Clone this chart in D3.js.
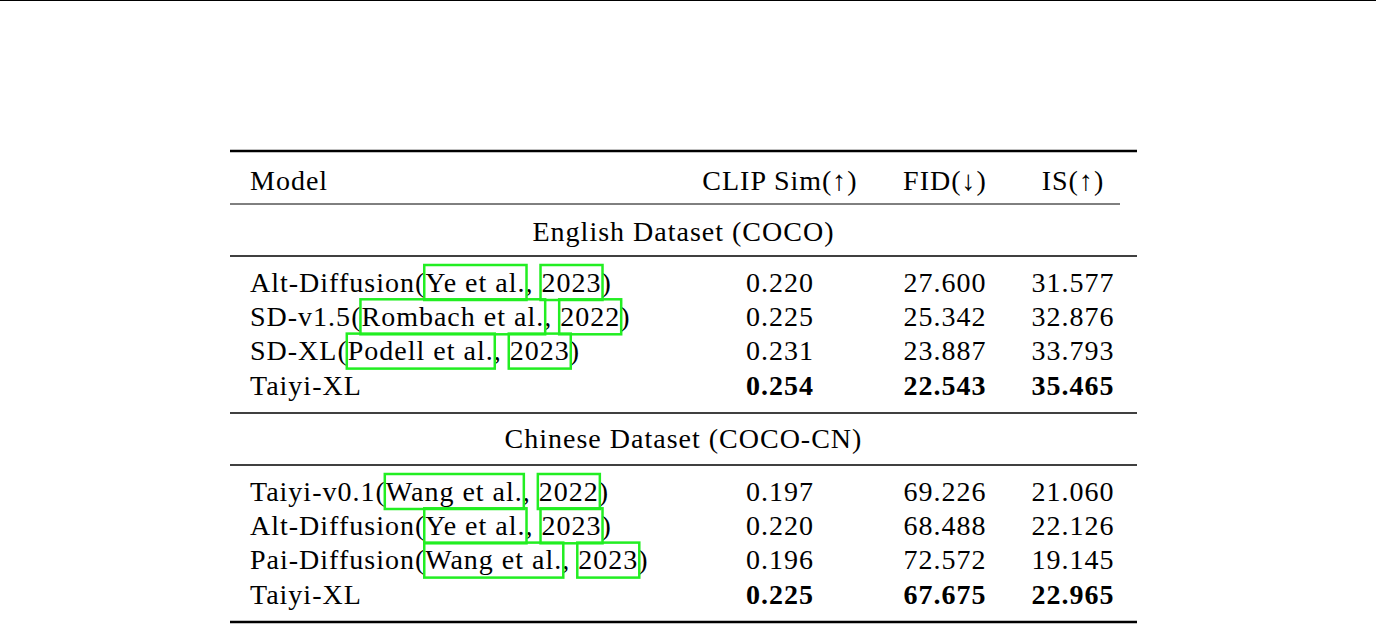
<!DOCTYPE html>
<html><head><meta charset="utf-8">
<script src="https://cdn.jsdelivr.net/npm/d3@7"></script>
<style>body{margin:0;background:#fff}</style>
</head><body>
<svg id="chart" width="1376" height="624"></svg>
<script>
var headers = ["Model", "CLIP Sim(\u2191)", "FID(\u2193)", "IS(\u2191)"];
var sections = ["English Dataset (COCO)", "Chinese Dataset (COCO-CN)"];
var models = [["Alt-Diffusion", "SD-v1.5", "SD-XL", "Taiyi-XL"],
              ["Taiyi-v0.1", "Alt-Diffusion", "Pai-Diffusion", "Taiyi-XL"]];
var citeNames = [["Ye et al.", "Rombach et al.", "Podell et al.", null],
                 ["Wang et al.", "Ye et al.", "Wang et al.", null]];
var citeYears = [["2023", "2022", "2023", null],
                 ["2022", "2023", "2023", null]];
var clipSim = [["0.220", "0.225", "0.231", "0.254"], ["0.197", "0.220", "0.196", "0.225"]];
var fid = [["27.600", "25.342", "23.887", "22.543"], ["69.226", "68.488", "72.572", "67.675"]];
var is = [["31.577", "32.876", "33.793", "35.465"], ["21.060", "22.126", "19.145", "22.965"]];
var boldRow = 3;

var svg = d3.select("#chart");
var font = "'Liberation Serif', 'DejaVu Serif', serif";
var fs = 28;
var left = 230, right = 1137;
var colX = [250, 780, 945, 1073];

function rule(y, x1, x2, w) {
	svg.append("line").attr("x1", x1).attr("x2", x2).attr("y1", y).attr("y2", y)
		.attr("stroke", "black").attr("stroke-width", w);
}
function txt(x, y, s, anchor, bold) {
	return svg.append("text").attr("x", x).attr("y", y).attr("dy", "0.35em")
		.attr("font-family", font).attr("font-size", fs)
		.attr("letter-spacing", 1)
		.attr("font-weight", bold ? "bold" : "normal")
		.attr("text-anchor", anchor).text(s);
}

rule(0.5, 0, 1376, 1);
rule(151, left, right, 2.5);
txt(colX[0], 180, headers[0], "start");
for (var c = 1; c < 4; c++) txt(colX[c], 180, headers[c], "middle");
rule(204, left, 1120, 1);

var sectionY = [231, 438];
var rowStart = [282, 491];
var rowStep = 34.3;
var rulesAfter = [[256, 413], [465, 622]];

for (var s = 0; s < 2; s++) {
	txt((left + right) / 2, sectionY[s], sections[s], "middle");
	rule(rulesAfter[s][0], left, right, 1.5);
	for (var r = 0; r < 4; r++) {
		var y = rowStart[s] + r * rowStep;
		var b = r == boldRow;
		var t = txt(colX[0], y, null, "start");
		t.append("tspan").text(models[s][r]);
		if (citeNames[s][r]) {
			t.append("tspan").text("(");
			var nm = t.append("tspan").text(citeNames[s][r]);
			t.append("tspan").text(", ");
			var yr = t.append("tspan").text(citeYears[s][r]);
			t.append("tspan").text(")");
			[nm, yr].forEach(function(sp) {
				var node = sp.node();
				var n = node.getNumberOfChars();
				var x0 = node.getStartPositionOfChar(0).x;
				var x1 = node.getEndPositionOfChar(n - 1).x;
				svg.append("rect").attr("x", x0 - 1).attr("y", y - 17)
					.attr("width", x1 - x0 + 2).attr("height", 35)
					.attr("fill", "none").attr("stroke", "#22ee22").attr("stroke-width", 2.5);
			});
		}
		txt(colX[1], y, clipSim[s][r], "middle", b);
		txt(colX[2], y, fid[s][r], "middle", b);
		txt(colX[3], y, is[s][r], "middle", b);
	}
	rule(rulesAfter[s][1], left, right, s == 1 ? 2.5 : 1.5);
}
</script>
</body></html>
